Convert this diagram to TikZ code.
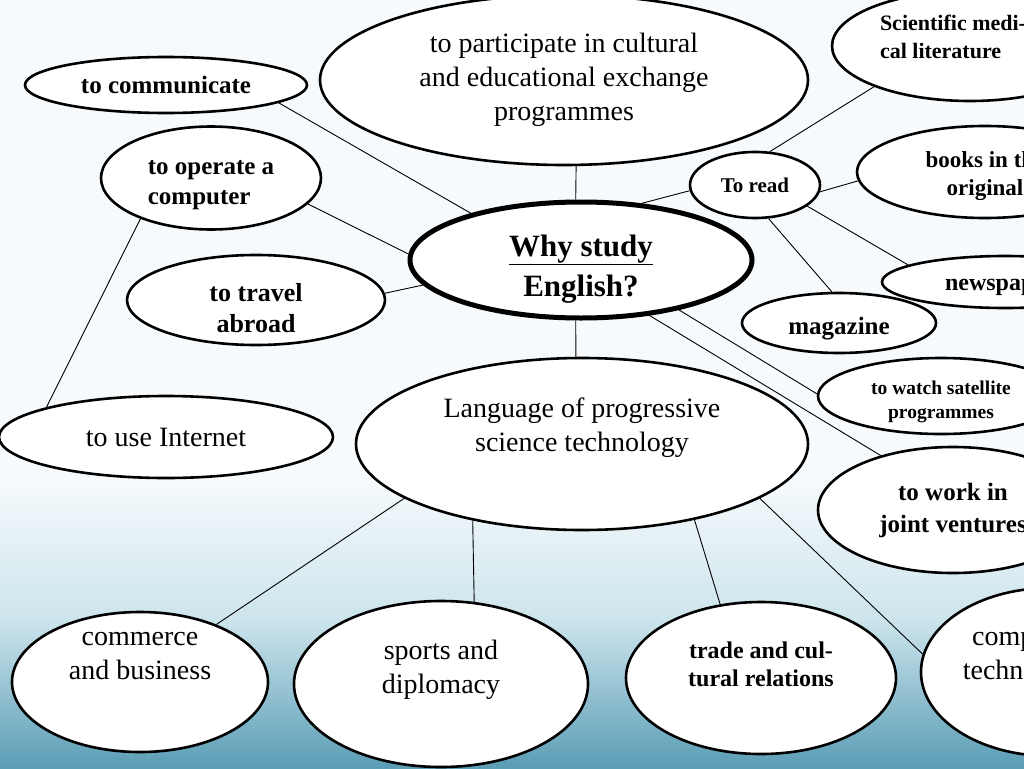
\documentclass[tikz,border=0pt]{standalone}
\usepackage{fontspec}
\setmainfont{Liberation Serif}
\usetikzlibrary{shapes.geometric}

\definecolor{bgtop}{RGB}{246,250,252}
\definecolor{bgmid}{RGB}{204,228,236}
\definecolor{bgbot}{RGB}{90,157,181}

\begin{document}
\begin{tikzpicture}[x=1pt, y=-1pt,
    bubble/.style={ellipse, draw, line width=2.6pt, fill=white, inner sep=0pt},
    size/.style 2 args={minimum width=#1, minimum height=#2},
    reg/.style={font=\fontsize{28}{34}\selectfont, align=center},
    heavy/.style 2 args={font=\bfseries\fontsize{#1}{#2}\selectfont, align=center},
    link/.style={line width=0.9pt}]
  \useasboundingbox (0,0) rectangle (1024,768);
  \clip (0,0) rectangle (1024,768);
  \fill[bgtop] (0,0) rectangle (1024,481);
  \shade[top color=bgtop, bottom color=bgmid] (0,480) rectangle (1024,621);
  \shade[top color=bgmid, bottom color=bgbot] (0,620) rectangle (1024,768);

  % left side
  \node[bubble, size={282}{56}, heavy={25}{30}] (comm) at (166,85) {to communicate};
  \node[bubble, size={220}{103}, label={[heavy={25}{30}, align=left, yshift=-7pt]center:{to operate a\\computer}}] (op) at (211,178) {};
  \node[bubble, size={258}{90}, label={[heavy={26}{31}, yshift=-8pt]center:{to travel\\abroad}}] (travel) at (256,300) {};
  \node[bubble, size={334}{82}, reg] (net) at (166,437) {to use Internet};

  % centre
  \node[bubble, size={488}{170}, reg] (part) at (564,80) {to participate in cultural\\and educational exchange\\programmes};
  \node[bubble, line width=5pt, size={342}{116}, label={[heavy={31}{40}, yshift=-9pt]center:{\underline{Why study}\\English?}}] (why) at (581,260) {};
  \node[bubble, size={452}{172}, label={[reg, yshift=16pt]center:{Language of progressive\\science technology}}] (lang) at (582,444) {};

  % reading
  \node[bubble, size={130}{66}, heavy={21}{24}] (read) at (755,185) {To read};
  \node[bubble, size={276}{110}, label={[heavy={22}{28}, align=left, xshift=-17pt, yshift=9pt]center:{Scientific medi-\\cal literature}}] (sci) at (970,46) {};
  \node[bubble, size={256}{92}, label={[heavy={23}{28}, yshift=-4pt]center:{books in the\\original}}] (books) at (985,172) {};
  \node[bubble, size={246}{52}, label={[heavy={24}{30}, yshift=-5pt]center:{newspapers}}] (news) at (1005,282) {};
  \node[bubble, size={194}{60}, label={[heavy={25}{30}, yshift=-6pt]center:{magazine}}] (mag) at (839,323) {};
  \node[bubble, size={246}{76}, label={[heavy={19.5}{24}, yshift=-6pt]center:{to watch satellite\\programmes}}] (sat) at (941,396) {};
  \node[bubble, size={270}{126}, heavy={25}{32}] (joint) at (953,510) {to work in\\joint ventures};

  % bottom row
  \node[bubble, size={256}{140}, label={[reg, yshift=26pt]center:{commerce\\and business}}] (commerce) at (140,682) {};
  \node[bubble, size={294}{166}, label={[reg, yshift=14pt]center:{sports and\\diplomacy}}] (sports) at (441,684) {};
  \node[bubble, size={270}{152}, label={[heavy={24}{28}, yshift=14pt]center:{trade and cul-\\tural relations}}] (trade) at (761,678) {};
  \node[bubble, size={258}{168}, label={[reg, xshift=-25pt, yshift=14pt]center:{computer\\technology}}] (comptech) at (1050,672) {};

  \draw[link] (comm.-9) -- (why.157);
  \draw[link] (op.-15) -- (why.178);
  \draw[link] (travel.3) -- (why.-171);
  \draw[link] (op.-150) -- (net.166);
  \draw[link] (part.-82) -- (why.95);
  \draw[link] (why.43) -- (read.-175);
  \draw[link] (read.66) -- (sci.-157);
  \draw[link] (read.-6) -- (books.-176);
  \draw[link] (read.-68) -- (mag.103);
  \draw[link] (read.-22) -- (news.170);
  \draw[link] (why.-27) -- (sat.179);
  \draw[link] (why.-39) -- (joint.143);
  \draw[link] (why.-95) -- (lang.94);
  \draw[link] (lang.-163) -- (commerce.37);
  \draw[link] (lang.-145) -- (sports.68);
  \draw[link] (lang.-34) -- (trade.119);
  \draw[link] (lang.-17) -- (comptech.172);
\end{tikzpicture}
\end{document}
